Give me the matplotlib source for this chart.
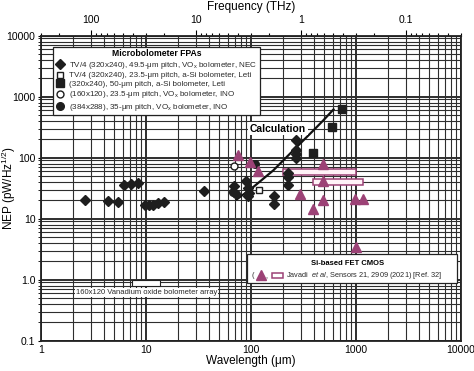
import numpy as np
import matplotlib
matplotlib.use('Agg')
import matplotlib.pyplot as plt
from matplotlib.patches import Rectangle
from matplotlib.lines import Line2D
from matplotlib.ticker import FixedLocator, FixedFormatter, LogLocator, NullFormatter

plt.rcParams['font.family'] = ['Liberation Sans', 'DejaVu Sans']
plt.rcParams['mathtext.fontset'] = 'custom'
plt.rcParams['mathtext.rm'] = 'Liberation Sans'
plt.rcParams['mathtext.it'] = 'Liberation Sans:italic'
plt.rcParams['mathtext.bf'] = 'Liberation Sans:bold'

# --- данные (длина волны в мкм, NEP в pW/Hz^1/2) ---
nec_wl = [2.64, 4.35, 5.41, 6.21, 7.2, 8.33, 9.78, 10.7, 11.7, 12.9, 14.7, 35.7,
          69.3, 89.6, 93.6, 95.7, 93.6, 164, 164, 226, 226, 226, 267, 267, 267, 267]
nec_nep = [20.5, 19.4, 18.5, 36.1, 36.9, 37.9, 17.0, 17.0, 17.0, 17.8, 19.0, 28.8,
           33.9, 41.7, 31.4, 26.0, 23.2, 23.8, 17.1, 56.3, 47.5, 36.1, 196, 134, 113, 97.4]

leti_open_wl = [120]
leti_open_nep = [29.9]

leti_fill_wl = [736, 594, 389]
leti_fill_nep = [635, 318, 121]

ino_open_wl = [68.4]
ino_open_nep = [73.9]

ino_fill_wl = [109, 68.1, 71.9]
ino_fill_nep = [79.7, 27.0, 25.0]

javadi_wl = [74.7, 96.8, 117, 480, 480, 293, 387, 487, 978, 1158, 993]
javadi_nep = [110, 85.3, 60.8, 78.5, 41.7, 25.7, 14.6, 20.2, 20.7, 21.3, 3.42]

# полосы (диапазон длин волн / диапазон NEP)
javadi_bar_wl = [(200, 990), (392, 1175)]
javadi_bar_nep = [(52.6, 66.0), (36.1, 45.3)]

vox_bar_wl = (7.41, 13.6)
vox_bar_nep = (0.785, 1.0)

calc_wl = [73.1, 105, 163, 253, 393, 488, 611]
calc_nep = [20.7, 33.0, 61.9, 132, 280, 409, 619]

y_ticks = [0.1, 1, 10, 100, 1000, 10000]
y_ticklabels = ['0.1', '1.0', '10', '100', '1000', '10000']
x_ticks = [1, 10, 100, 1000, 10000]
x_ticklabels = ['1', '10', '100', '1000', '10000']
f_ticks = [100, 10, 1, 0.1]
f_ticklabels = ['100', '10', '1', '0.1']

PINK = '#9c4276'
GRID = '#2e2e2e'

fig = plt.figure(figsize=(4.74, 3.71), dpi=100)
ax = fig.add_axes([41 / 474, 1 - 340.7 / 371, 420 / 474, 305 / 371])
ax.set_xscale('log')
ax.set_yscale('log')
ax.set_xlim(1, 10000)
ax.set_ylim(0.1, 10000)
ax.set_axisbelow(True)

ax.grid(which='major', color=GRID, lw=1.4)
ax.grid(which='minor', color=GRID, lw=0.8)
for s in ax.spines.values():
    s.set_linewidth(1.3)
    s.set_color('#222222')

ax.xaxis.set_major_locator(FixedLocator(x_ticks))
ax.xaxis.set_major_formatter(FixedFormatter(x_ticklabels))
ax.xaxis.set_minor_locator(LogLocator(base=10, subs=np.arange(2, 10)))
ax.xaxis.set_minor_formatter(NullFormatter())
ax.yaxis.set_major_locator(FixedLocator(y_ticks))
ax.yaxis.set_major_formatter(FixedFormatter(y_ticklabels))
ax.yaxis.set_minor_locator(LogLocator(base=10, subs=np.arange(2, 10)))
ax.yaxis.set_minor_formatter(NullFormatter())
ax.tick_params(axis='x', which='both', length=0, labelsize=7.5, pad=3)
ax.tick_params(axis='y', which='both', direction='out', length=2, labelsize=7.5, pad=2)

ax.set_xlabel('Wavelength (\u03bcm)', fontsize=8.5, labelpad=0)
ax.set_ylabel('NEP (pW/Hz$^{1/2}$)', fontsize=8.5)
ax.yaxis.set_label_coords(-0.055, 0.5)

# верхняя ось — частота
secax = ax.secondary_xaxis('top', functions=(lambda w: 300.0 / w, lambda f: 300.0 / f))
secax.xaxis.set_major_locator(FixedLocator(f_ticks))
secax.xaxis.set_major_formatter(FixedFormatter(f_ticklabels))
secax.xaxis.set_minor_locator(LogLocator(base=10, subs=np.arange(2, 10)))
secax.xaxis.set_minor_formatter(NullFormatter())
secax.tick_params(which='major', direction='out', length=4, width=0.8, labelsize=7.5, pad=4)
secax.tick_params(which='minor', direction='out', length=2.5, width=0.8)
secax.set_xlabel('Frequency (THz)', fontsize=8.5, labelpad=3)

# полосы
for (w0, w1), (n0, n1) in zip(javadi_bar_wl, javadi_bar_nep):
    ax.add_patch(Rectangle((w0, n0), w1 - w0, n1 - n0, facecolor='#fff2f7',
                           edgecolor=PINK, lw=1.1, zorder=2.5))
ax.add_patch(Rectangle((vox_bar_wl[0], vox_bar_nep[0]), vox_bar_wl[1] - vox_bar_wl[0],
                       vox_bar_nep[1] - vox_bar_nep[0], facecolor='white',
                       edgecolor='#222222', lw=0.8, zorder=2.5))

ax.plot(calc_wl, calc_nep, color='#111111', lw=1.6, zorder=3)

mk = dict(linestyle='none', zorder=4)
ax.plot(nec_wl, nec_nep, marker='D', ms=5.5, color='#1e1e1e', **mk)
ax.plot(leti_open_wl, leti_open_nep, marker='s', ms=5, mfc='white', mec='#1e1e1e', mew=1, **mk)
ax.plot(leti_fill_wl, leti_fill_nep, marker='s', ms=5.5, color='#1e1e1e', **mk)
ax.plot(ino_open_wl, ino_open_nep, marker='o', ms=5, mfc='white', mec='#1e1e1e', mew=1, **mk)
ax.plot(ino_fill_wl, ino_fill_nep, marker='o', ms=5.5, color='#1e1e1e', **mk)
ax.plot(javadi_wl, javadi_nep, marker='^', ms=6.5, color=PINK, **mk)

ax.text(181, 300, 'Calculation', fontsize=7.5, fontweight='bold', ha='center', va='center',
        zorder=5, bbox=dict(facecolor='white', edgecolor='none', pad=1.2))

ax.text(0.251, 0.157, '160x120 Vanadium oxide bolometer array', transform=ax.transAxes,
        fontsize=5.5, ha='center', va='center', color='#2a2a2a', zorder=5,
        bbox=dict(facecolor='white', edgecolor='none', pad=0.8))

# легенда микроболометров
handles = [
    Line2D([], [], marker='D', ms=5, color='#1e1e1e', ls='none'),
    Line2D([], [], marker='s', ms=5, mfc='white', mec='#1e1e1e', mew=1, ls='none'),
    Line2D([], [], marker='s', ms=5.5, color='#1e1e1e', ls='none'),
    Line2D([], [], marker='o', ms=5, mfc='white', mec='#1e1e1e', mew=1, ls='none'),
    Line2D([], [], marker='o', ms=5.5, color='#1e1e1e', ls='none'),
]
labels = [
    'TV/4 (320x240), 49.5-\u03bcm pitch, VO$_\\mathrm{x}$ bolometer, NEC',
    'TV/4 (320x240), 23.5-\u03bcm pitch, a-Si bolometer, Leti',
    '(320x240), 50-\u03bcm pitch, a-Si bolometer, Leti',
    '(160x120), 23.5-\u03bcm pitch, VO$_\\mathrm{x}$ bolometer, INO',
    '(384x288), 35-\u03bcm pitch, VO$_\\mathrm{x}$ bolometer, INO',
]
leg = ax.legend(handles, labels, loc='upper left', bbox_to_anchor=(53.3 / 474, 1 - 46.7 / 371),
                bbox_transform=fig.transFigure, borderaxespad=0, fontsize=5.75,
                title='Microbolometer FPAs', title_fontproperties={'weight': 'bold', 'size': 6.2},
                fancybox=False, framealpha=1, edgecolor='#222222', labelspacing=0.15,
                handlelength=1.0, handletextpad=0.6, borderpad=0.35)
leg.get_frame().set_linewidth(0.9)
leg.set_zorder(6)
for t in leg.get_texts():
    t.set_color('#2a2a2a')

# легенда Si-based FET CMOS (вручную)
ax.add_patch(Rectangle((0.491, 0.190), 0.5, 0.094, transform=ax.transAxes, facecolor='white',
                       edgecolor='#222222', lw=0.9, zorder=6))
ax.text(0.731, 0.254, 'Si-based FET CMOS', transform=ax.transAxes, fontsize=5.5,
        fontweight='bold', ha='center', va='center', zorder=7)
ax.text(0.503, 0.213, '(', transform=ax.transAxes, fontsize=5.3, ha='center', va='center',
        color='#2a2a2a', zorder=7)
ax.plot([0.524], [0.216], marker='^', ms=6.5, color=PINK, transform=ax.transAxes,
        clip_on=False, zorder=7)
ax.text(0.537, 0.210, ',', transform=ax.transAxes, fontsize=5.3, ha='center', va='center',
        color='#2a2a2a', zorder=7)
ax.add_patch(Rectangle((0.549, 0.205), 0.028, 0.018, transform=ax.transAxes, facecolor='white',
                       edgecolor=PINK, lw=1.1, zorder=7))
ax.text(0.583, 0.213, 'Javadi  $\\mathit{et\\ al}$, Sensors 21, 2909 (2021) [Ref. 32]',
        transform=ax.transAxes, fontsize=5.3, ha='left', va='center', color='#2a2a2a', zorder=7)

fig.savefig('out.png', dpi=100)
